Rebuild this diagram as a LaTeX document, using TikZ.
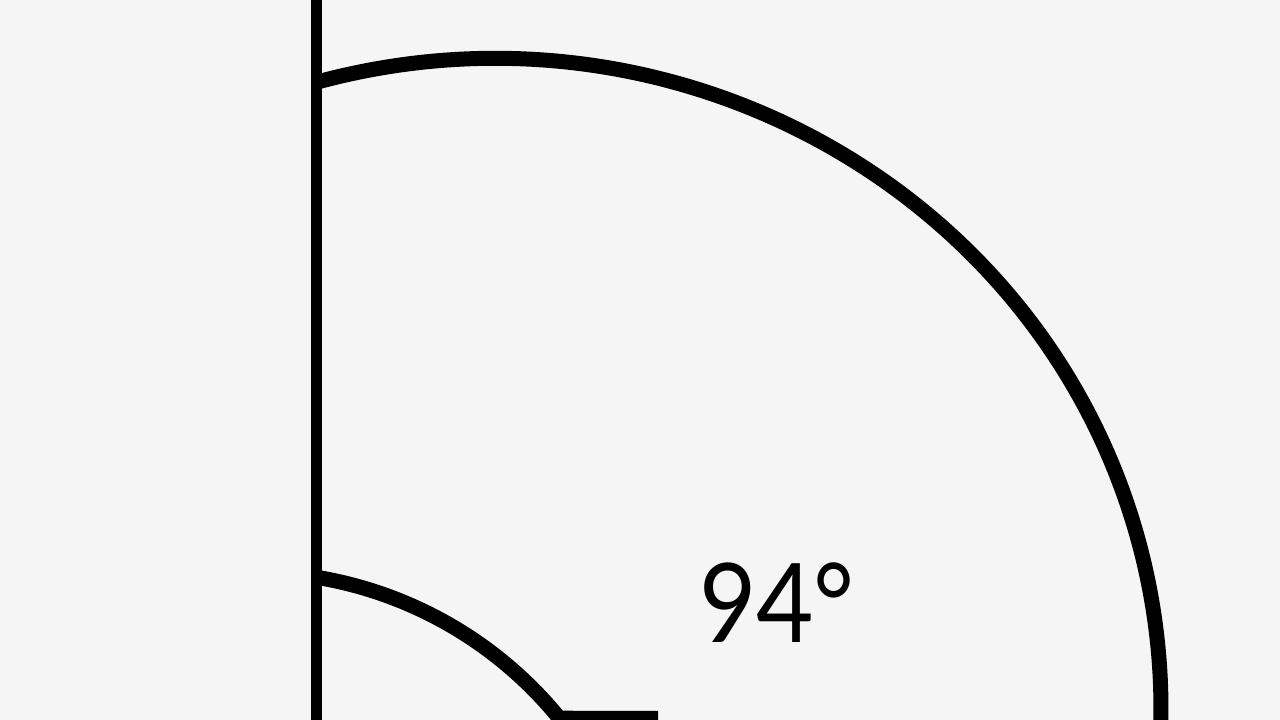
\documentclass[tikz,border=0pt]{standalone}
\usepackage{fontspec}
\setmainfont{Lato}
\definecolor{bgcol}{RGB}{245,245,245}
\begin{document}
\begin{tikzpicture}[x=1pt,y=1pt,
  sideline/.style={line width=11pt, draw=black},
  arcline/.style={line width=15pt, draw=black, line join=miter},
  anglelabel/.style={font=\fontsize{110}{116}\selectfont, inner sep=0pt, text=black, xscale=0.9}]
\fill[bgcol] (0,0) rectangle (1280,720);
\useasboundingbox (0,0) rectangle (1280,720);
\clip (0,0) rectangle (1280,720);
% vertical side
\coordinate (vtop) at (316,740);
\coordinate (vbot) at (316,-20);
\draw[sideline] (vbot) -- (vtop);
% large arc
\coordinate (bigstart) at (315.9,637.6);
\draw[arcline] (bigstart) arc[start angle=105.6, end angle=-15, x radius=666pt, y radius=650pt];
% small arc with horizontal foot
\coordinate (smallstart) at (316,142.8);
\coordinate (footend) at (658,1.7);
\draw[arcline] (smallstart) arc[start angle=80.7, end angle=39.1, radius=396pt] -- (footend);
% label
\node[anglelabel, anchor=base] (angle) at (777,77) {94°};
\end{tikzpicture}
\end{document}
